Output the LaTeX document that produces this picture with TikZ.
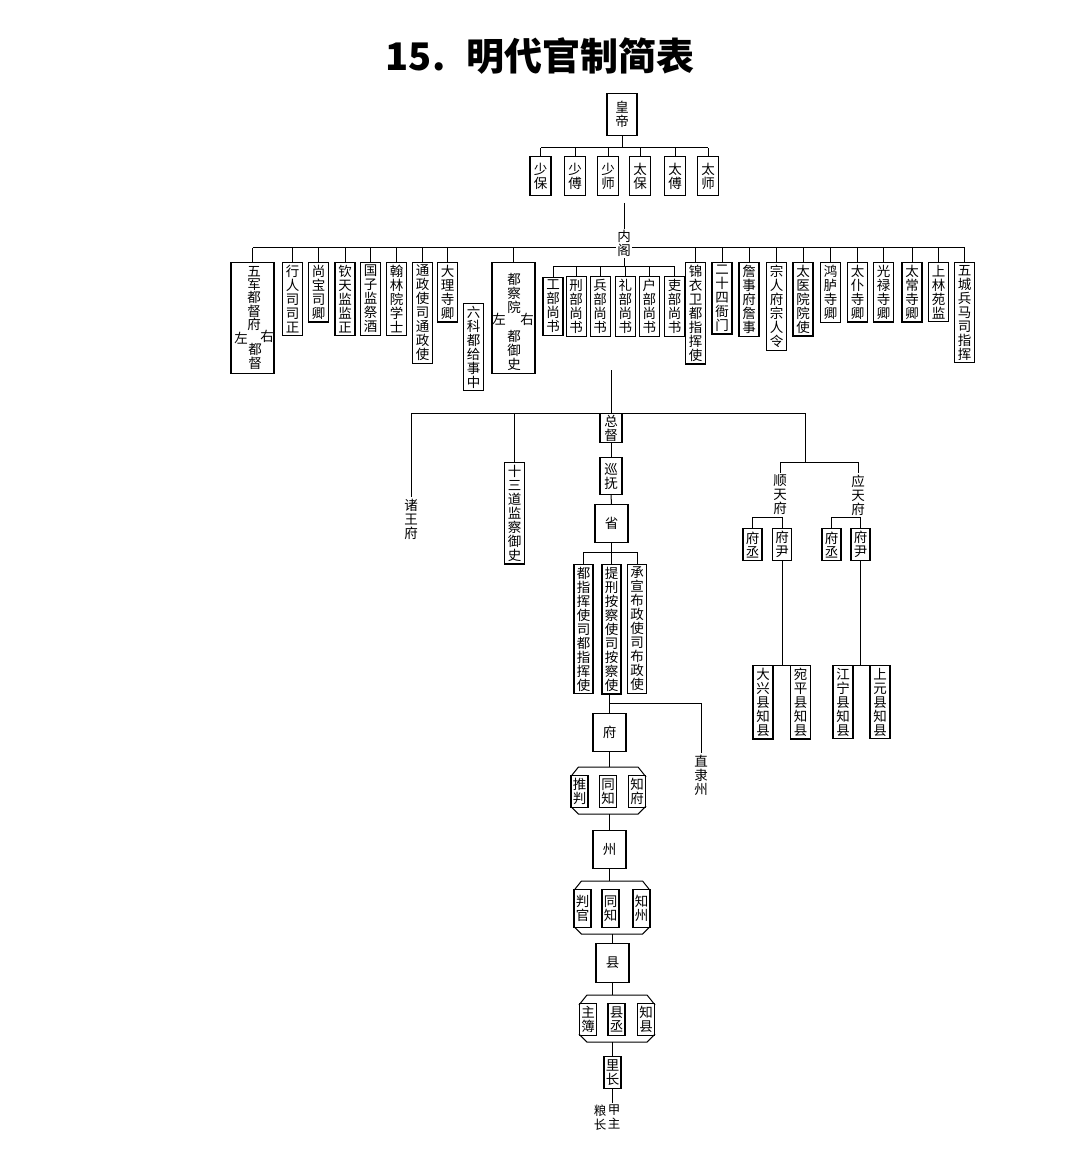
\documentclass[tikz,border=0pt]{standalone}
\usepackage{fontspec}
\newfontfamily\cjk{Noto Sans CJK SC}
\usetikzlibrary{positioning}
\tikzset{
	office/.style = {draw, line width=1.1pt, anchor=north, align=center,
	 inner xsep=0pt, inner ysep=2.5pt, minimum width=20,
	 font=\cjk\fontsize{13.5}{14}\selectfont}}
\tikzset{
	duke/.style = {office, minimum width=21, minimum height=39},
	seat/.style = {office, minimum width=33, minimum height=38},
	pair/.style = {office, minimum width=17, minimum height=32},
	bare/.style = {align=center, inner sep=1pt, font=\cjk\fontsize{13.5}{14}\selectfont}}
% frame round a group of three boxes
\newcommand{\groupframe}[2]{%
	\draw ([yshift=-2pt]#1.north west) -- ++(8,-10) -- ([xshift=-8pt,yshift=8pt]#2.north east) -- ([yshift=-2pt]#2.north east);
	\draw ([yshift=2pt]#1.south west) -- ++(8,8) -- ([xshift=-8pt,yshift=-6pt]#2.south east) -- ([yshift=2pt]#2.south east);}
\begin{document}
\begin{tikzpicture}[x=1pt, y=-1pt, line width=1pt]
\path [use as bounding box, fill=white] (0,0) rectangle (1080,1158);

% NODES
% title
\node (title) [font=\cjk\bfseries\fontsize{38}{40}\selectfont] at (540,56) {15.\hspace{0.55em}明代官制简表};
% emperor
\node (huangdi) [office, minimum width=30, minimum height=42] at (622,93) {皇\\帝};
\node (shaobao) [duke] at (540.5,156) {少\\保};
\node (shaofu) [duke] at (575,156) {少\\傅};
\node (shaoshi) [duke] at (608,156) {少\\师};
\node (taibao) [duke] at (640,156) {太\\保};
\node (taifu) [duke] at (675,156) {太\\傅};
\node (taishi) [duke] at (708,156) {太\\师};
\node (neige) [bare, fill=white] at (624,243.5) {内\\阁};
% court offices, left
\node (wujun) [office, minimum width=43, minimum height=111] at (252.5,262) {};
\node (wujunname) [bare, font=\cjk\fontsize{13.5}{13.3}\selectfont] at (254,298.5) {五\\军\\都\\督\\府};
\node (wujunl) [bare] at (241,338) {左};
\node (wujunr) [bare] at (267,336) {右};
\node (wujundu) [bare] at (255,356) {都\\督};
\node (xingren) [office] at (292.5,262) {行\\人\\司\\司\\正};
\node (shangbao) [office] at (318.5,262) {尚\\宝\\司\\卿};
\node (qintian) [office] at (345,262) {钦\\天\\监\\监\\正};
\node (guozi) [office] at (370.5,262) {国\\子\\监\\祭\\酒};
\node (hanlin) [office] at (396.5,262) {翰\\林\\院\\学\\士};
\node (tongzheng) [office] at (422.5,262) {通\\政\\使\\司\\通\\政\\使};
\node (dali) [office] at (447.5,262) {大\\理\\寺\\卿};
\node (liuke) [office] at (473.5,303) {六\\科\\都\\给\\事\\中};
\node (duchayuan) [office, minimum width=43, minimum height=111] at (513.5,262) {};
\node (duchaname) [bare] at (514,293) {都\\察\\院};
\node (duchal) [bare] at (499,319) {左};
\node (duchar) [bare] at (527,319) {右};
\node (duchayushi) [bare] at (514,350) {都\\御\\史};
% six ministries
\node (gongbu) [office] at (553,277) {工\\部\\尚\\书};
\node (xingbu) [office, right=2pt of gongbu] {刑\\部\\尚\\书};
\node (bingbu) [office, right=3pt of xingbu] {兵\\部\\尚\\书};
\node (libu) [office, right=4pt of bingbu] {礼\\部\\尚\\书};
\node (hubu) [office, right=3pt of libu] {户\\部\\尚\\书};
\node (libu2) [office, right=4pt of hubu] {吏\\部\\尚\\书};
% court offices, right
\node (jinyi) [office] at (695.5,262) {锦\\衣\\卫\\都\\指\\挥\\使};
\node (ershisi) [office] at (722,262) {二\\十\\四\\衙\\门};
\node (zhanshi) [office] at (749,262) {詹\\事\\府\\詹\\事};
\node (zongren) [office] at (776.5,262) {宗\\人\\府\\宗\\人\\令};
\node (taiyi) [office] at (803,262) {太\\医\\院\\院\\使};
\node (honglu) [office] at (830.5,262) {鸿\\胪\\寺\\卿};
\node (taipu) [office] at (857.5,262) {太\\仆\\寺\\卿};
\node (guanglu) [office] at (883.5,262) {光\\禄\\寺\\卿};
\node (taichang) [office] at (912,262) {太\\常\\寺\\卿};
\node (shanglin) [office] at (938.5,262) {上\\林\\苑\\监};
\node (wucheng) [office] at (964.5,262) {五\\城\\兵\\马\\司\\指\\挥};
% provinces
\node (zhuwang) [bare] at (411,519) {诸\\王\\府};
\node (shisan) [office] at (514.5,462) {十\\三\\道\\监\\察\\御\\史};
\node (zongdu) [office, minimum width=22, inner ysep=1.5pt] at (611,413) {总\\督};
\node (xunfu) [office, minimum width=22, minimum height=37] at (611,457) {巡\\抚};
\node (sheng) [seat] at (611.5,504) {省};
\node (duzhihui) [office, minimum width=19] at (583.5,564) {都\\指\\挥\\使\\司\\都\\指\\挥\\使};
\node (tixing) [office, minimum width=19] at (611.5,564) {提\\刑\\按\\察\\使\\司\\按\\察\\使};
\node (chengxuan) [office, minimum width=19] at (637,564) {承\\宣\\布\\政\\使\\司\\布\\政\\使};
\node (fu) [seat] at (609.5,713) {府};
\node (zhili) [bare] at (701,775) {直\\隶\\州};
\node (tuipan) [pair] at (579.5,775) {推\\判};
\node (tongzhi1) [pair] at (608,775) {同\\知};
\node (zhifu) [pair] at (637,775) {知\\府};
\node (zhou) [seat] at (609.5,830) {州};
\node (panguan) [pair, minimum height=38] at (582.5,889) {判\\官};
\node (tongzhi2) [pair, minimum height=38] at (610.5,889) {同\\知};
\node (zhizhou) [pair, minimum height=38] at (641.5,889) {知\\州};
\node (xian) [seat, minimum height=39] at (612.5,943) {县};
\node (zhubu) [pair] at (588,1003) {主\\簿};
\node (xiancheng) [pair] at (616.5,1003) {县\\丞};
\node (zhixian) [pair] at (646,1003) {知\\县};
\node (lizhang) [pair] at (612.5,1056) {里\\长};
\node (liangzhang) [bare, font=\cjk\fontsize{12.5}{14}\selectfont] at (600,1118) {粮\\长};
\node (jiazhu) [bare, font=\cjk\fontsize{12.5}{14}\selectfont] at (614,1117) {甲\\主};
% capitals
\node (shuntian) [bare] at (780,495) {顺\\天\\府};
\node (yingtian) [bare] at (858,495) {应\\天\\府};
\node (fucheng1) [pair, minimum width=19] at (752.5,528) {府\\丞};
\node (fuyin1) [pair, minimum width=19] at (782,528) {府\\尹};
\node (fucheng2) [pair, minimum width=19] at (831.5,528) {府\\丞};
\node (fuyin2) [pair, minimum width=19] at (860.5,528) {府\\尹};
\node (daxing) [office] at (763,665) {大\\兴\\县\\知\\县};
\node (wanping) [office] at (800.5,665) {宛\\平\\县\\知\\县};
\node (jiangning) [office] at (843,665) {江\\宁\\县\\知\\县};
\node (shangyuan) [office] at (880,665) {上\\元\\县\\知\\县};

% CONNECTIONS
\coordinate (dukebus) at (622,148);
\draw (huangdi.south) -- (dukebus);
\draw (shaobao.north |- dukebus) -- (taishi.north |- dukebus);
\foreach \n in {shaobao,shaofu,shaoshi,taibao,taifu,taishi}
	\draw (\n.north) -- (\n.north |- dukebus);
\coordinate (neitop) at (624,203);
\draw (neitop) -- (neige.north);
\coordinate (mainbus) at (600,248);
\draw (wujun.north |- mainbus) -- (neige.west |- mainbus);
\draw (neige.east |- mainbus) -- (wucheng.north |- mainbus);
\foreach \n in {wujun,xingren,shangbao,qintian,guozi,hanlin,tongzheng,dali,duchayuan,
	jinyi,ershisi,zhanshi,zongren,taiyi,honglu,taipu,guanglu,taichang,shanglin,wucheng}
	\draw (\n.north) -- (\n.north |- mainbus);
\coordinate (bubus) at (624,266);
\draw (neige.south) -- (bubus);
\draw (gongbu.north |- bubus) -- (libu2.north |- bubus);
\foreach \n in {gongbu,xingbu,bingbu,libu,hubu,libu2}
	\draw (\n.north) -- (\n.north |- bubus);
% down to the provinces
\coordinate (midtop) at (611,370);
\coordinate (lowbus) at (611,413);
\coordinate (jingbus) at (805,462);
\draw (midtop) -- (lowbus);
\draw (zhuwang.north |- lowbus) -| (jingbus);
\draw (zhuwang.north |- lowbus) -- (zhuwang.north);
\draw (shisan.north |- lowbus) -- (shisan.north);
\draw (zongdu.south) -- (xunfu.north);
\draw (xunfu.south) -- (sheng.north);
\coordinate (shengbus) at (611,552);
\draw (sheng.south) -- (sheng.south |- shengbus);
\draw (duzhihui.north |- shengbus) -- (chengxuan.north |- shengbus);
\foreach \n in {duzhihui,tixing,chengxuan}
	\draw (\n.north) -- (\n.north |- shengbus);
\coordinate (zhilibr) at (610,703);
\draw (fu.north |- tixing.south) -- (fu.north);
\draw (fu.north |- zhilibr) -| (zhili.north);
% prefecture, department, county
\groupframe{tuipan}{zhifu}
\draw (fu.south) -- ([yshift=8pt]fu.south |- tongzhi1.north);
\draw ([yshift=-6pt]zhou.north |- tongzhi1.south) -- (zhou.north);
\groupframe{panguan}{zhizhou}
\draw (zhou.south) -- ([yshift=8pt]zhou.south |- tongzhi2.north);
\draw ([yshift=-6pt]xian.north |- tongzhi2.south) -- (xian.north);
\groupframe{zhubu}{zhixian}
\draw (xian.south) -- ([yshift=8pt]xian.south |- xiancheng.north);
\draw ([yshift=-6pt]lizhang.north |- xiancheng.south) -- (lizhang.north);
\coordinate (lizhangend) at (612.5,1103);
\draw (lizhang.south) -- (lizhangend);
% capitals
\draw (shuntian.north |- jingbus) -- (yingtian.north |- jingbus);
\draw (shuntian.north |- jingbus) -- (shuntian.north);
\draw (yingtian.north |- jingbus) -- (yingtian.north);
\coordinate (stbus) at (767,517);
\draw (fucheng1.north |- stbus) -- (fuyin1.north |- stbus);
\draw (fucheng1.north |- stbus) -- (fucheng1.north);
\draw (fuyin1.north |- shuntian.south) -- (fuyin1.north);
\draw (fucheng2.north |- stbus) -- (fuyin2.north |- stbus);
\draw (fucheng2.north |- stbus) -- (fucheng2.north);
\draw (fuyin2.north |- yingtian.south) -- (fuyin2.north);
\draw (fuyin1.south) -- (fuyin1.south |- daxing.north);
\draw (daxing.north east) -- (wanping.north west);
\draw (fuyin2.south) -- (fuyin2.south |- jiangning.north);
\draw (jiangning.north east) -- (shangyuan.north west);

\end{tikzpicture}
\end{document}
